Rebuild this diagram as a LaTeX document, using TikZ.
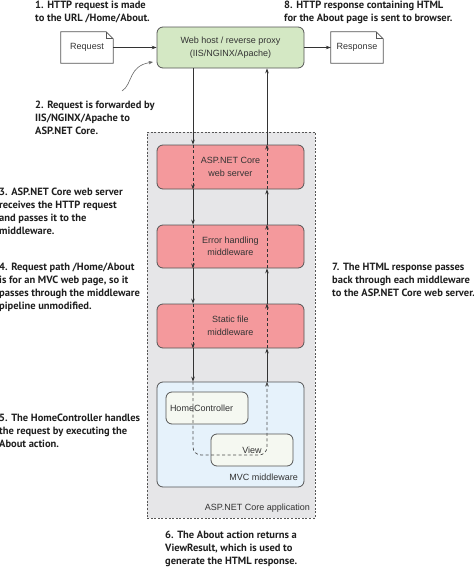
\documentclass[tikz,border=0pt]{standalone}
\usepackage{fontspec}
\setmainfont{Liberation Sans}
\newfontfamily\annfont{PT Sans}
\usetikzlibrary{arrows.meta}
\definecolor{boxline}{HTML}{555555}
\definecolor{linec}{HTML}{333333}
\definecolor{greenf}{HTML}{D4E8C4}
\definecolor{redf}{HTML}{F4999C}
\definecolor{contf}{HTML}{E6E6E8}
\definecolor{mvcf}{HTML}{E6F2FB}
\definecolor{innerf}{HTML}{F5F8F1}
\definecolor{textc}{HTML}{333333}
\tikzset{
  box/.style={draw=boxline, rounded corners=6pt, line width=0.8pt, minimum width=147pt,
    inner sep=0pt, align=center, font=\fontsize{9}{12.5}\selectfont, text=textc},
  greenbox/.style={box, fill=greenf, minimum height=41pt},
  redbox/.style={box, fill=redf, minimum height=44pt},
  mvcbox/.style={box, fill=mvcf, minimum height=105pt},
  innerbox/.style={box, fill=innerf, minimum width=82pt, minimum height=32pt},
  docnode/.style={inner sep=0pt, minimum width=52pt, minimum height=31pt,
    font=\fontsize{9}{12}\selectfont, text=textc},
  docline/.style={draw=boxline, line width=0.7pt, fill=white},
  lbl/.style={inner sep=0pt, font=\fontsize{9}{12}\selectfont, text=textc},
  ann/.style={anchor=north west, inner sep=0pt, align=left,
    font=\annfont\bfseries\fontsize{10.5}{12.8}\selectfont, text=black!88},
  flow/.style={draw=linec, line width=0.7pt, -{Stealth[length=5pt,width=3.6pt]}},
  flowd/.style={flow, dash pattern=on 3pt off 2.5pt},
  curvy/.style={draw=black!60, line width=0.6pt, -{Stealth[length=4.5pt,width=3.4pt]}}
}
\begin{document}
\begin{tikzpicture}[x=1pt,y=-1pt]
\useasboundingbox (0,0) rectangle (474,568);

% container
\node[draw=boxline, line width=0.7pt, dash pattern=on 2pt off 1.6pt, fill=contf,
  minimum width=168pt, minimum height=386pt, inner sep=0pt] (app) at (231,325) {};
\node[lbl, anchor=base east] (applbl) at (310,510) {ASP.NET Core application};

% top row
\node[greenbox] (web) at (230.5,47.5) {Web host / reverse proxy\\(IIS/NGINX/Apache)};

\node[docnode] (req) at (87,47.5) {};
\draw[docline] (req.south west) -- (req.south east) -- ([yshift=-7pt]req.north east)
  -- ([xshift=-7pt]req.north east) -- (req.north west) -- cycle;
\draw[docline, fill=none] ([xshift=-7pt]req.north east) -- ([xshift=-7pt,yshift=-7pt]req.north east)
  -- ([yshift=-7pt]req.north east);
\node[docnode] (reqt) at (req.center) {Request};

\node[docnode] (resp) at (357,47.5) {};
\draw[docline] (resp.south west) -- (resp.south east) -- ([yshift=-7pt]resp.north east)
  -- ([xshift=-7pt]resp.north east) -- (resp.north west) -- cycle;
\draw[docline, fill=none] ([xshift=-7pt]resp.north east) -- ([xshift=-7pt,yshift=-7pt]resp.north east)
  -- ([yshift=-7pt]resp.north east);
\node[docnode] (respt) at (resp.center) {Response};

\draw[flow] (req.east) -- (web.west);
\draw[flow] (web.east) -- (resp.west);

% middleware boxes
\node[redbox] (asp) at (230.5,167) {ASP.NET Core\\web server};
\node[redbox, minimum height=43pt] (err) at (230.5,246.5) {Error handling\\middleware};
\node[redbox] (stat) at (230.5,326) {Static file\\middleware};
\node[mvcbox] (mvc) at (230.5,434.5) {};
\node[lbl, anchor=base east] (mvclbl) at (298,480) {MVC middleware};
\node[innerbox, text width=74pt, align=left, inner xsep=4pt] (hc) at (207,408) {HomeController};
\node[innerbox] (view) at (252,450) {View};

% flow lines
\coordinate (dn) at (193,0);
\coordinate (up) at (267,0);
\coordinate (turn) at (0,455);

\draw[flow]  (dn |- web.south) -- (dn |- asp.north);
\draw[flowd] (dn |- asp.north) -- (dn |- asp.south);
\draw[flow]  (dn |- asp.south) -- (dn |- err.north);
\draw[flowd] (dn |- err.north) -- (dn |- err.south);
\draw[flow]  (dn |- err.south) -- (dn |- stat.north);
\draw[flowd] (dn |- stat.north) -- (dn |- stat.south);
\draw[flow]  (dn |- stat.south) -- (dn |- mvc.north);
\draw[flowd, draw=black!70, rounded corners=8pt] (dn |- mvc.north) -- (dn |- turn) -- (up |- turn) -- (up |- mvc.north);
\draw[flow]  (up |- mvc.north) -- (up |- stat.south);
\draw[flowd] (up |- stat.south) -- (up |- stat.north);
\draw[flow]  (up |- stat.north) -- (up |- err.south);
\draw[flowd] (up |- err.south) -- (up |- err.north);
\draw[flow]  (up |- err.north) -- (up |- asp.south);
\draw[flowd] (up |- asp.south) -- (up |- asp.north);
\draw[flow]  (up |- asp.north) -- (up |- web.south);

% curved pointer
\coordinate (cs) at (122,91);
\coordinate (ce) at (153,62);
\draw[curvy] (cs) .. controls (133,84) and (128,66) .. (ce);

% annotations
\node[ann] (a1) at (35,1) {1. HTTP request is made\\to the URL /Home/About.};
\node[ann] (a8) at (284,1) {8. HTTP response containing HTML\\for the About page is sent to browser.};
\node[ann] (a2) at (35,101) {2. Request is forwarded by\\IIS/NGINX/Apache to\\ASP.NET Core.};
\node[ann] (a3) at (-1,188) {3. ASP.NET Core web server\\receives the HTTP request\\and passes it to the\\middleware.};
\node[ann] (a4) at (-1,263) {4. Request path /Home/About\\is for an MVC web page, so it\\passes through the middleware\\pipeline unmodified.};
\node[ann] (a5) at (-1,414) {5. The HomeController handles\\the request by executing the\\About action.};
\node[ann] (a7) at (332,263) {7. The HTML response passes\\back through each middleware\\to the ASP.NET Core web server.};
\node[ann] (a6) at (165,531) {6. The About action returns a\\ViewResult, which is used to\\generate the HTML response.};
\end{tikzpicture}
\end{document}
